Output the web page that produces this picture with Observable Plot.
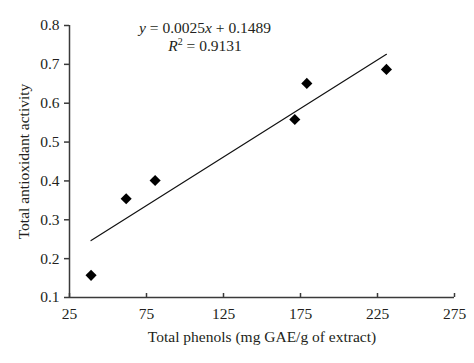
<!DOCTYPE html>
<html>
<head>
<meta charset="utf-8">
<script src="https://cdn.jsdelivr.net/npm/d3@7"></script>
<script src="https://cdn.jsdelivr.net/npm/@observablehq/plot@0.6"></script>
<style>
  html, body { margin: 0; padding: 0; background: #fff; }
</style>
</head>
<body>
<div id="chart"></div>
<script>
// Data
const phenols = [39, 61.8, 80.6, 171.3, 179.1, 230.8];
const activity = [0.157, 0.354, 0.401, 0.558, 0.651, 0.687];
// Trend line coefficients and fit (as printed on the chart)
const slope = [0.0025];
const intercept = [0.1489];
const rSquared = [0.9131];
// Axis ticks
const xTicks = [25, 75, 125, 175, 225, 275];
const yTicks = [0.1, 0.2, 0.3, 0.4, 0.5, 0.6, 0.7, 0.8];
const xTitle = "Total phenols (mg GAE/g of extract)";
const yTitle = "Total antioxidant activity";

const points = phenols.map((x, i) => ({x, y: activity[i]}));
const xExtent = d3.extent(phenols);
const trend = xExtent.map(x => ({x, y: slope[0] * x + intercept[0]}));

const eq1 = `y = ${slope[0]}x + ${intercept[0]}`;
const eq2 = `R2 = ${rSquared[0]}`;
const annoPos = [{x: 113, y: 0.8}];

const axisColor = "#3a3a3a";
const textColor = "#231f20";
const fs = 15.5;

const plot = Plot.plot({
  width: 474,
  height: 363,
  marginLeft: 69,
  marginRight: 20,
  marginTop: 25,
  marginBottom: 66,
  style: {fontFamily: "'Liberation Serif', 'Times New Roman', serif", fontSize: fs + "px", color: textColor, background: "#fff"},
  x: {domain: [25, 275]},
  y: {domain: [0.1, 0.8]},
  marks: [
    Plot.ruleX([25], {stroke: axisColor, strokeWidth: 1.5}),
    Plot.ruleY([0.1], {stroke: axisColor, strokeWidth: 1.5}),
    Plot.axisX({ticks: xTicks, tickSize: -4, tickPadding: 14, stroke: axisColor, strokeWidth: 1.5,
      label: xTitle, labelAnchor: "center", labelArrow: "none", labelOffset: 44, fill: textColor}),
    Plot.axisY({ticks: yTicks, tickSize: 5, tickPadding: 5, stroke: axisColor, strokeWidth: 1.5,
      tickFormat: d => d.toFixed(1),
      label: yTitle, labelAnchor: "center", labelArrow: "none", labelOffset: 52, fill: textColor}),
    Plot.line(trend, {x: "x", y: "y", stroke: "#111", strokeWidth: 1.2}),
    Plot.dot(points, {x: "x", y: "y", symbol: "diamond2", r: 5, fill: "#000", stroke: "none"}),
    Plot.text(annoPos, {x: "x", y: "y", text: () => eq1, dy: 3, fill: textColor, fontSize: fs}),
    Plot.text(annoPos, {x: "x", y: "y", text: () => eq2, dy: 21, fill: textColor, fontSize: fs})
  ]
});

document.getElementById("chart").appendChild(plot);

// Styling of the equation: italic variables and a superscript
d3.select(plot).selectAll("text").each(function() {
  const t = this.textContent;
  if (t === eq1) {
    d3.select(this).html(`<tspan font-style="italic">y</tspan> = ${slope[0]}<tspan font-style="italic">x</tspan> + ${intercept[0]}`);
  } else if (t === eq2) {
    d3.select(this).html(`<tspan font-style="italic">R</tspan><tspan dy="-6" font-size="10">2</tspan><tspan dy="6"> = ${rSquared[0]}</tspan>`);
  }
});
</script>
</body>
</html>
